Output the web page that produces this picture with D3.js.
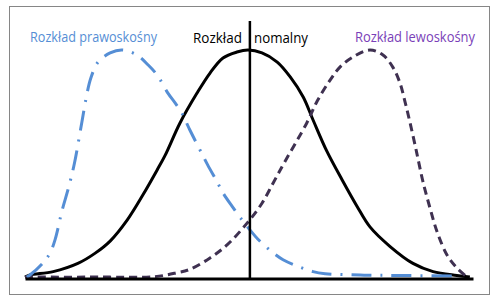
<!DOCTYPE html>
<html>
<head>
<meta charset="utf-8">
<script src="https://cdn.jsdelivr.net/npm/d3@7"></script>
<style>
  body { margin: 0; background: #fff; }
  svg { display: block; }
</style>
</head>
<body>
<div id="chart"></div>
<script>
// x in 0..10, y in 0..100 (peak height)
var normalX = [0, 0.11, 0.63, 1.18, 1.56, 1.9, 2.28, 2.63, 2.95, 3.13, 3.46, 3.84, 4.13, 4.42, 4.73, 4.98, 5.29, 5.63, 5.92, 6.21, 6.43, 6.74, 7.08, 7.41, 7.7, 8.15, 8.66, 9.11, 9.64, 9.93];
var normalY = [0.4, 1.3, 2.8, 6.4, 10.8, 16.2, 25.4, 36.4, 47.4, 53.9, 68, 81.1, 89.9, 96.5, 99.1, 100, 98.7, 94.7, 88.2, 79.4, 69.3, 55.5, 43, 31.5, 22.4, 13.8, 6.4, 2.8, 1.1, 0.4];

var rightX = [0.04, 0.11, 0.4, 0.56, 0.67, 0.83, 0.97, 1.1, 1.27, 1.38, 1.47, 1.63, 1.9, 2.17, 2.5, 2.75, 2.95, 3.19, 3.35, 3.5, 3.68, 3.95, 4.08, 4.29, 4.42, 4.62, 4.84, 5.02, 5.2, 5.54, 5.76, 6.03, 6.43, 6.7, 7.48, 8.37, 9.6];
var rightY = [0.4, 1.3, 6.6, 11, 16.7, 29.8, 39.5, 50, 68.4, 80.5, 87.7, 94.7, 98.7, 100, 97.8, 93.4, 89, 81.1, 76.8, 72.4, 64.9, 54.5, 49.5, 42.1, 37.3, 31.5, 25.6, 21.1, 17, 11, 8, 5.6, 2.8, 1.9, 1.3, 1.1, 0.9];

var leftX = [0, 1.67, 2.9, 3.39, 3.68, 4.13, 4.51, 4.98, 5.29, 5.54, 5.8, 6.29, 6.52, 6.81, 7.03, 7.32, 7.7, 7.99, 8.21, 8.37, 8.48, 8.59, 8.71, 8.77, 8.88, 9.04, 9.2, 9.42, 9.64, 9.87];
var leftY = [0.4, 0.4, 0.6, 2.3, 3.8, 8.8, 14.5, 24.6, 32.8, 41.7, 51, 68, 77.5, 86.8, 92.5, 96.9, 100, 97.8, 92.5, 85.5, 77.5, 68.5, 58, 52.5, 42.5, 30.7, 20.2, 10.1, 4.4, 0.4];

var labels = ['Rozkład prawoskośny', 'Rozkład', 'nomalny', 'Rozkład lewoskośny'];

var width = 497;
var height = 304;

var svg = d3.select('#chart').append('svg')
    .attr('width', width)
    .attr('height', height);

svg.append('rect')
    .attr('x', 9.5)
    .attr('y', 6.5)
    .attr('width', 480)
    .attr('height', 288)
    .attr('fill', '#fff')
    .attr('stroke', '#868686')
    .attr('stroke-width', 1);

var xScale = d3.scaleLinear().domain([0, 10]).range([25, 473]);
var yScale = d3.scaleLinear().domain([0, 100]).range([278, 50]);

var line = d3.line()
    .x(d => xScale(d[0]))
    .y(d => yScale(d[1]))
    .curve(d3.curveCatmullRom.alpha(0.5));

function pairs(xs, ys) {
    return xs.map((x, i) => [x, ys[i]]);
}

// normal
svg.append('path')
    .datum(pairs(normalX, normalY))
    .attr('d', line)
    .attr('fill', 'none')
    .attr('stroke', '#000')
    .attr('stroke-width', 3);

// left skewed (purple dashed)
svg.append('path')
    .datum(pairs(leftX, leftY))
    .attr('d', line)
    .attr('fill', 'none')
    .attr('stroke', '#3f3151')
    .attr('stroke-width', 3)
    .attr('stroke-dasharray', '8,5');

// right skewed (blue dash-dot)
svg.append('path')
    .datum(pairs(rightX, rightY))
    .attr('d', line)
    .attr('fill', 'none')
    .attr('stroke', '#558ed5')
    .attr('stroke-width', 3)
    .attr('stroke-dasharray', '20,9,2,9');

// axes
svg.append('g')
    .attr('transform', 'translate(0,278.5)')
    .call(d3.axisBottom(xScale).tickValues([]).tickSizeOuter(0))
    .select('.domain')
    .attr('stroke', '#000')
    .attr('stroke-width', 3);

svg.append('line')
    .attr('x1', xScale(5.02)).attr('x2', xScale(5.02))
    .attr('y1', 21).attr('y2', 279)
    .attr('stroke', '#000')
    .attr('stroke-width', 2.5);

var font = '"Open Sans", sans-serif';

function label(txt, x, y, w, color) {
    svg.append('text')
        .text(txt)
        .attr('x', x)
        .attr('y', y)
        .attr('textLength', w)
        .attr('lengthAdjust', 'spacingAndGlyphs')
        .attr('font-family', font)
        .attr('font-size', 14)
        .attr('fill', color);
}

label(labels[0], 30, 42, 127, '#558ed5');
label(labels[1], 193, 43, 49, '#000');
label(labels[2], 254, 43, 54, '#000');
label(labels[3], 355, 42, 120, '#7a3fb8');
</script>
</body>
</html>
